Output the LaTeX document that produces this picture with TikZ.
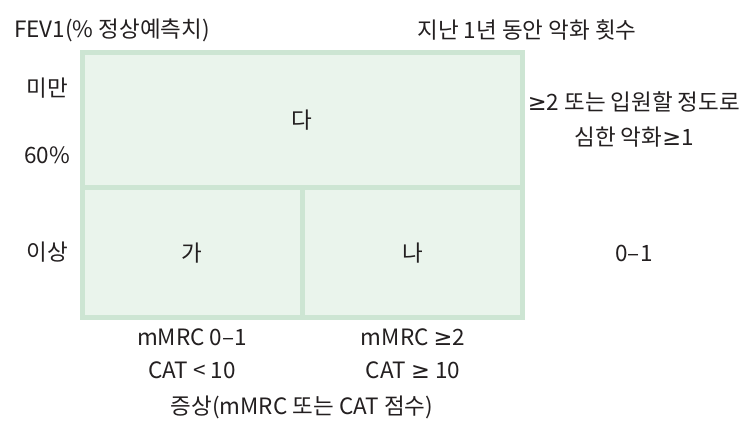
\documentclass[tikz,border=0pt]{standalone}
\usepackage{fontspec}
\setmainfont{Noto Sans CJK KR}
\newfontfamily\symf{DejaVu Sans}
\newcommand{\gte}{{\symf ≥}}
\definecolor{cellfill}{HTML}{EAF4EC}
\definecolor{cellline}{HTML}{CDE5D3}
\definecolor{ink}{HTML}{231F20}
\begin{document}
\begin{tikzpicture}[x=1pt,y=-1pt,
  lbl/.style={font=\fontsize{22.5}{27}\selectfont, text=ink, inner sep=0pt, align=center},
  cell/.style={fill=cellfill, draw=cellline, line width=5pt}]
\useasboundingbox (0,0) rectangle (750,430);
% cells
\path[cell] (82.5,52.5) rectangle (522.5,318);
\draw[cellline, line width=5pt] (82.5,188) -- (522.5,188);
\draw[cellline, line width=5pt] (302.5,188) -- (302.5,318);
% labels
\node[lbl, anchor=west] (fev) at (14,30) {FEV1(\% 정상예측치)};
\node[lbl] (exac) at (527,30) {지난 1년 동안 악화 횟수};
\node[lbl] (lt) at (47,88) {미만};
\node[lbl] (p60) at (47,155) {60\%};
\node[lbl] (ge) at (47,252) {이상};
\node[lbl] (da) at (302,120) {다};
\node[lbl] (ga) at (192,253) {가};
\node[lbl] (na) at (413,253) {나};
\node[lbl] (hi1) at (634,102) {\gte2 또는 입원할 정도로};
\node[lbl] (hi2) at (634,137) {심한 악화\gte1};
\node[lbl] (lo) at (634,253) {0–1};
\node[lbl] (m1) at (192,337) {mMRC 0–1};
\node[lbl] (c1) at (192,370) {CAT < 10};
\node[lbl] (m2) at (413,337) {mMRC \gte2};
\node[lbl] (c2) at (413,370) {CAT \gte{} 10};
\node[lbl] (sym) at (302,407) {증상(mMRC 또는 CAT 점수)};
\end{tikzpicture}
\end{document}
